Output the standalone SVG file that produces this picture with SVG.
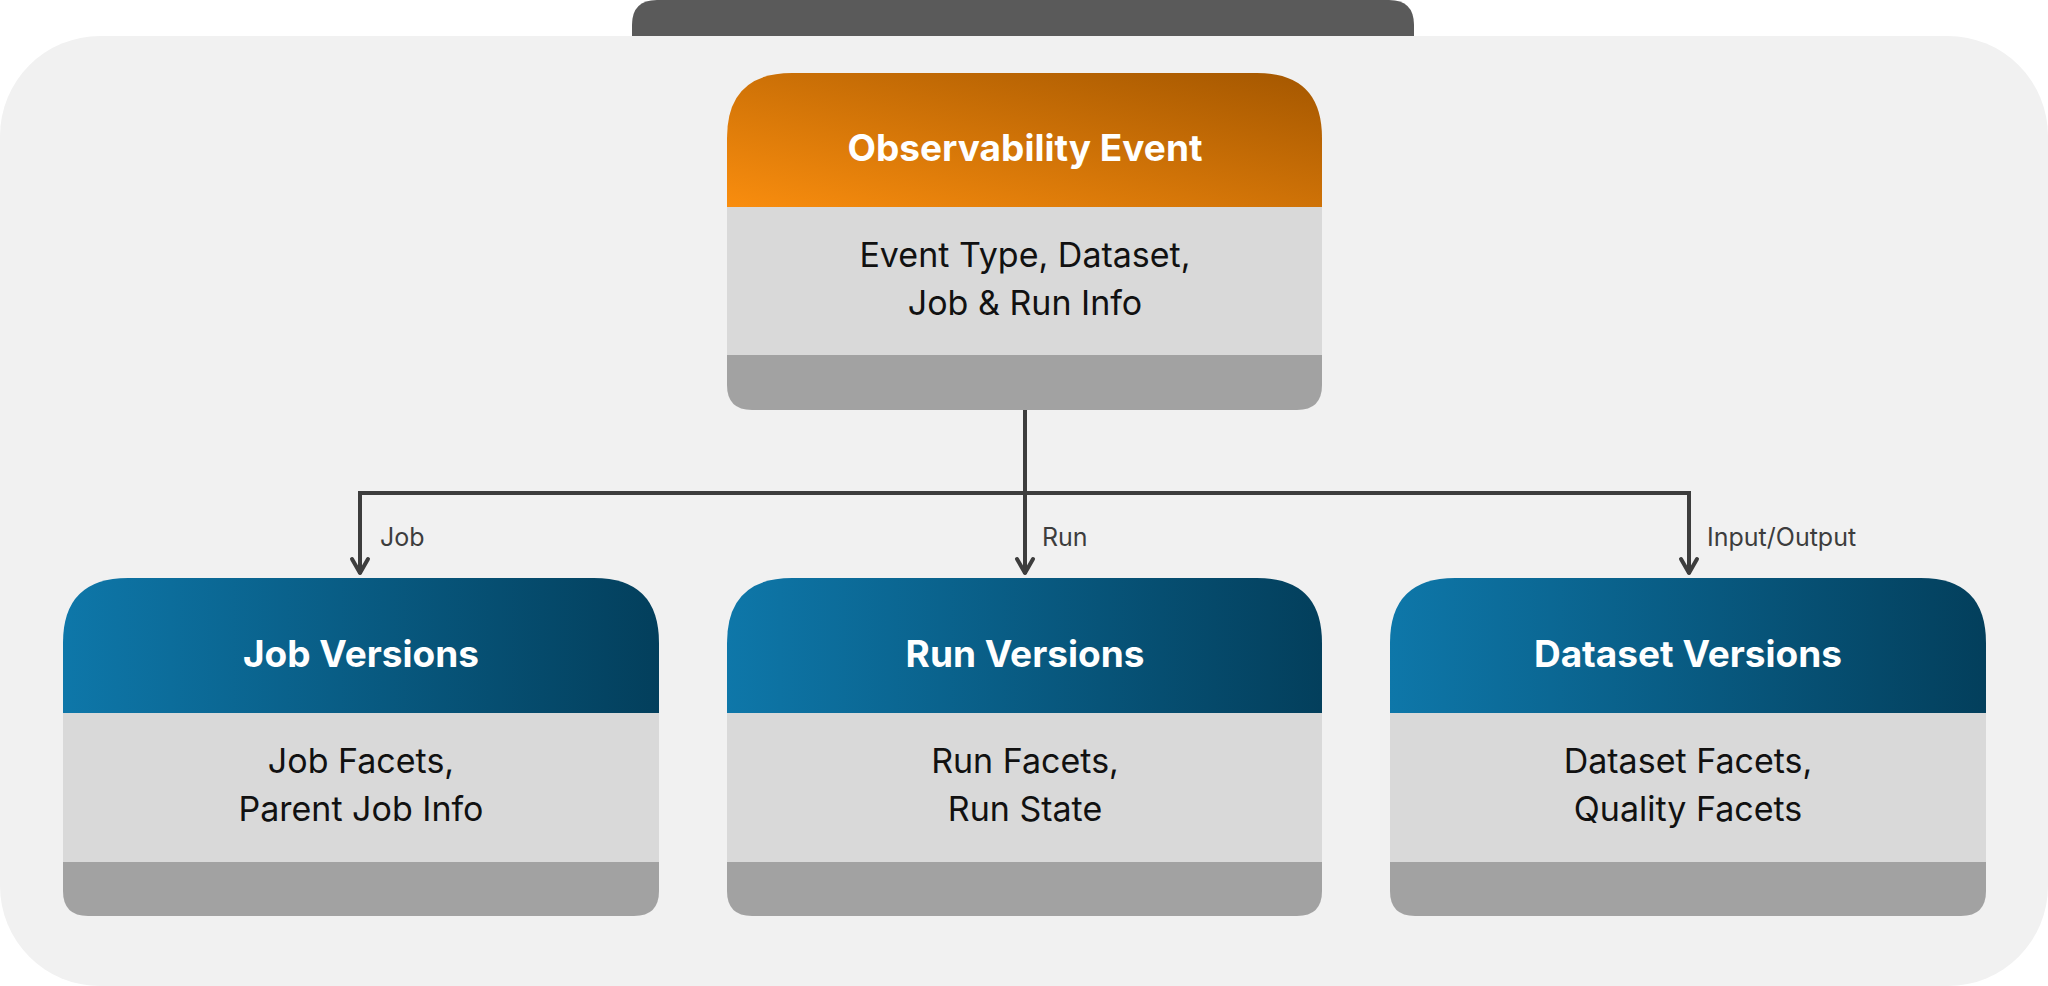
<svg xmlns="http://www.w3.org/2000/svg" width="2048" height="986" viewBox="0 0 2048 986">
<style>
.t{font-family:Inter,"Noto Sans",sans-serif;font-weight:700;font-size:37px;fill:#fff;text-anchor:middle}
.b{font-family:Inter,"Noto Sans",sans-serif;font-size:34px;fill:#111;text-anchor:middle}
.l{font-family:Inter,"Noto Sans",sans-serif;font-size:25px;fill:#3d3d3d}
.c{fill:none;stroke:#3d3d3d;stroke-width:4}
.ah{fill:none;stroke:#3d3d3d;stroke-width:4;stroke-linecap:round;stroke-linejoin:round}
.body{fill:#d9d9d9}.foot{fill:#a2a2a2}
</style>
<defs>
<linearGradient id="og" x1="0" y1="1" x2="1" y2="0"><stop offset="0" stop-color="#f98d0e"/><stop offset="1" stop-color="#a45700"/></linearGradient>
<linearGradient id="bg" x1="0" y1="0" x2="1" y2="0"><stop offset="0" stop-color="#0e77a9"/><stop offset="1" stop-color="#033f5c"/></linearGradient>
</defs>
<rect x="0" y="36" width="2048" height="950" rx="100" fill="#f1f1f1"/>
<path d="M632,36 V25 Q632,0 657,0 H1389 Q1414,0 1414,25 V36 Z" fill="#5a5a5a"/>
<g id="connectors">
<path class="c" d="M1025,410 V574"/>
<path class="c" d="M360,574 V493 H1689 V574"/>
<path class="ah" d="M352,559 L360,573 L368,559"/>
<path class="ah" d="M1017,559 L1025,573 L1033,559"/>
<path class="ah" d="M1681,559 L1689,573 L1697,559"/>
<text class="l" x="380" y="546">Job</text>
<text class="l" x="1042" y="546">Run</text>
<text class="l" x="1707" y="546">Input/Output</text>
</g>
<g id="observability">
<path d="M727,207 V138 Q727,73 792,73 H1257 Q1322,73 1322,138 V207 Z" fill="url(#og)"/>
<rect class="body" x="727" y="207" width="595" height="148"/>
<path class="foot" d="M727,355 H1322 V385 Q1322,410 1297,410 H752 Q727,410 727,385 Z"/>
<text class="t" x="1025" y="161">Observability Event</text>
<text class="b" x="1025" y="267">Event Type, Dataset,</text>
<text class="b" x="1025" y="315">Job &amp; Run Info</text>
</g>
<g id="job">
<path d="M63,713 V643 Q63,578 128,578 H594 Q659,578 659,643 V713 Z" fill="url(#bg)"/>
<rect class="body" x="63" y="713" width="596" height="149"/>
<path class="foot" d="M63,862 H659 V891 Q659,916 634,916 H88 Q63,916 63,891 Z"/>
<text class="t" x="361" y="667">Job Versions</text>
<text class="b" x="361" y="773">Job Facets,</text>
<text class="b" x="361" y="821">Parent Job Info</text>
</g>
<g id="run">
<path d="M727,713 V643 Q727,578 792,578 H1257 Q1322,578 1322,643 V713 Z" fill="url(#bg)"/>
<rect class="body" x="727" y="713" width="595" height="149"/>
<path class="foot" d="M727,862 H1322 V891 Q1322,916 1297,916 H752 Q727,916 727,891 Z"/>
<text class="t" x="1025" y="667">Run Versions</text>
<text class="b" x="1025" y="773">Run Facets,</text>
<text class="b" x="1025" y="821">Run State</text>
</g>
<g id="dataset">
<path d="M1390,713 V643 Q1390,578 1455,578 H1921 Q1986,578 1986,643 V713 Z" fill="url(#bg)"/>
<rect class="body" x="1390" y="713" width="596" height="149"/>
<path class="foot" d="M1390,862 H1986 V891 Q1986,916 1961,916 H1415 Q1390,916 1390,891 Z"/>
<text class="t" x="1688" y="667">Dataset Versions</text>
<text class="b" x="1688" y="773">Dataset Facets,</text>
<text class="b" x="1688" y="821">Quality Facets</text>
</g>
</svg>
